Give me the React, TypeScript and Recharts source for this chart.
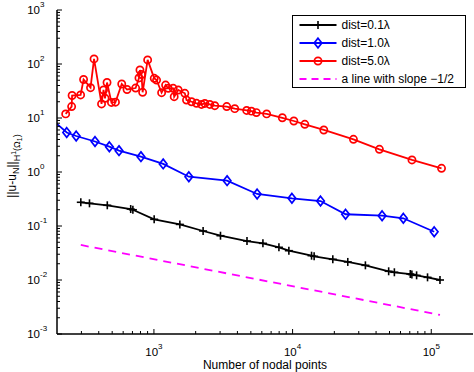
import React from 'react';
import { ComposedChart, Line, XAxis, YAxis, Legend, Label } from 'recharts';

// ---- data ----
const blackNodes = [297, 343, 461, 680, 705, 1004, 1538, 2263, 3020, 4690, 6110, 7970, 9400, 13700, 14300, 19500, 25000, 33500, 49300, 54200, 70600, 72500, 78400, 94000, 115600];
const blackErr = [0.275, 0.263, 0.242, 0.206, 0.2, 0.133, 0.107, 0.0808, 0.0661, 0.0527, 0.0478, 0.0403, 0.0349, 0.0282, 0.0275, 0.0242, 0.0216, 0.0187, 0.0145, 0.0139, 0.0129, 0.0126, 0.0122, 0.0112, 0.01];

const blueNodes = [179, 235, 275, 376, 477, 560, 806, 1166, 1786, 3370, 5550, 9890, 15900, 24100, 44200, 62900, 105000];
const blueErr = [10.0, 5.39, 4.64, 3.67, 2.94, 2.48, 1.92, 1.41, 0.818, 0.69, 0.392, 0.326, 0.29, 0.165, 0.155, 0.139, 0.0784];

const redNodes = [231, 255, 257, 296, 311, 349, 370, 419, 433, 444, 459, 494, 528, 586, 640, 738, 780, 793, 813, 829, 901, 1005, 1045, 1136, 1214, 1268, 1377, 1400, 1496, 1671, 1718, 1868, 2028, 2203, 2328, 2529, 2747, 3350, 3827, 4667, 5047, 5480, 6501, 8433, 10210, 12250, 16790, 27470, 42270, 72610, 118600];
const redErr = [11.9, 16.3, 26.1, 26.7, 51.6, 36.4, 124, 18.2, 33.0, 23.2, 45.4, 19.4, 19.6, 42.6, 33.7, 35.9, 55.1, 77.4, 63.9, 29.9, 119, 54.3, 50.5, 29.4, 40.8, 35.5, 35.5, 24.8, 33.0, 28.7, 21.5, 20.0, 18.7, 17.8, 18.6, 17.8, 16.9, 16.3, 14.9, 13.8, 13.4, 12.6, 11.9, 10.1, 8.8, 7.64, 6.0, 4.03, 2.63, 1.67, 1.17];

const slopeNodes = [297, 115600];
const slopeErr = [0.0445, 0.00226];

const legendNames = ['dist=0.1λ', 'dist=1.0λ', 'dist=5.0λ', 'a line with slope −1/2'];
const seriesColors = ['#000000', '#0000ff', '#ff0000', '#ff00ff'];

const xMajorTicks = [1000, 10000, 100000];
const xMinorTicks = [300, 400, 500, 600, 700, 800, 900, 2000, 3000, 4000, 5000, 6000, 7000, 8000, 9000, 20000, 30000, 40000, 50000, 60000, 70000, 80000, 90000];
const yMajorTicks = [0.001, 0.01, 0.1, 1, 10, 100, 1000];
const yMinorTicks = [
  0.002, 0.003, 0.004, 0.005, 0.006, 0.007, 0.008, 0.009,
  0.02, 0.03, 0.04, 0.05, 0.06, 0.07, 0.08, 0.09,
  0.2, 0.3, 0.4, 0.5, 0.6, 0.7, 0.8, 0.9,
  2, 3, 4, 5, 6, 7, 8, 9,
  20, 30, 40, 50, 60, 70, 80, 90,
  200, 300, 400, 500, 600, 700, 800, 900,
];

const xDomain = [200, 200000];
const yDomain = [0.001, 1000];

const toRows = (xs: number[], ys: number[]) => xs.map((x, i) => ({ x, y: ys[i] }));
const blackData = toRows(blackNodes, blackErr);
const blueData = toRows(blueNodes, blueErr);
const redData = toRows(redNodes, redErr);
const slopeData = toRows(slopeNodes, slopeErr);

const xTicks = [...xMinorTicks, ...xMajorTicks].sort((a, b) => a - b);
const yTicks = [...yMinorTicks, ...yMajorTicks].sort((a, b) => a - b);

const FONT = '"Liberation Sans", Arial, Helvetica, sans-serif';
const MAJOR = 5;
const MINOR = 3;
const LW = 1.8;

const isMajor = (v: number) => {
  const l = Math.log10(v);
  return Math.abs(l - Math.round(l)) < 1e-9;
};
const expOf = (v: number) => String(Math.round(Math.log10(v)));

const XTickBottom = (props: any) => {
  const { x, y, payload } = props;
  const v = payload.value;
  const major = isMajor(v);
  return (
    <g>
      <line x1={x} x2={x} y1={y} y2={y - (major ? MAJOR : MINOR)} stroke="#000" strokeWidth={1} />
      {major && (
        <text x={x} y={y + 22} textAnchor="middle" fontFamily={FONT} fontSize={11.5} fill="#000">
          10<tspan dy={-7} fontSize={8}>{expOf(v)}</tspan>
        </text>
      )}
    </g>
  );
};

const XTickTop = (props: any) => {
  const { x, y, payload } = props;
  const major = isMajor(payload.value);
  return <line x1={x} x2={x} y1={y} y2={y + (major ? MAJOR : MINOR)} stroke="#000" strokeWidth={1} />;
};

const YTickLeft = (props: any) => {
  const { x, y, payload } = props;
  const v = payload.value;
  const major = isMajor(v);
  return (
    <g>
      <line x1={x} x2={x + (major ? MAJOR : MINOR)} y1={y} y2={y} stroke="#000" strokeWidth={1} />
      {major && (
        <text x={x - 17} y={y + 4} textAnchor="end" fontFamily={FONT} fontSize={11.5} fill="#000">
          10
        </text>
      )}
      {major && (
        <text x={x - 17} y={y - 3} textAnchor="start" fontFamily={FONT} fontSize={8} fill="#000">
          {expOf(v)}
        </text>
      )}
    </g>
  );
};

const YTickRight = (props: any) => {
  const { x, y, payload } = props;
  const major = isMajor(payload.value);
  return <line x1={x} x2={x - (major ? MAJOR : MINOR)} y1={y} y2={y} stroke="#000" strokeWidth={1} />;
};

const PlusMark = ({ cx, cy, color }: any) => (
  <g>
    <line x1={cx - 4} x2={cx + 4} y1={cy} y2={cy} stroke={color} strokeWidth={1.6} />
    <line x1={cx} x2={cx} y1={cy - 4} y2={cy + 4} stroke={color} strokeWidth={1.6} />
  </g>
);
const DiamondMark = ({ cx, cy, color }: any) => (
  <path d={`M${cx},${cy - 4.8}L${cx + 3.8},${cy}L${cx},${cy + 4.8}L${cx - 3.8},${cy}Z`} fill="none" stroke={color} strokeWidth={1.7} />
);
const CircleMark = ({ cx, cy, color }: any) => (
  <circle cx={cx} cy={cy} r={3.6} fill="none" stroke={color} strokeWidth={1.7} />
);

const markDot = (Comp: any, color: string) => (p: any) => {
  if (p.cx == null || p.cy == null) return <g key={p.index} />;
  return <Comp key={p.index} cx={p.cx} cy={p.cy} color={color} />;
};

const renderLegend = () => (
  <div
    style={{
      width: 174,
      height: 73,
      boxSizing: 'border-box',
      border: '1.5px solid #000',
      background: '#fff',
    }}
  >
    <svg width={171} height={70} style={{ display: 'block' }}>
      {legendNames.map((name, i) => {
        const cy = 9 + i * 18;
        const color = seriesColors[i];
        return (
          <g key={name}>
            <line
              x1={6.5}
              x2={43.5}
              y1={cy}
              y2={cy}
              stroke={color}
              strokeWidth={LW}
              strokeDasharray={i === 3 ? '7 5' : undefined}
            />
            {i === 0 && <PlusMark cx={25} cy={cy} color={color} />}
            {i === 1 && <DiamondMark cx={25} cy={cy} color={color} />}
            {i === 2 && <CircleMark cx={25} cy={cy} color={color} />}
            <text x={48.5} y={cy + 4} fontFamily={FONT} fontSize={12} fill="#000">
              {name}
            </text>
          </g>
        );
      })}
    </svg>
  </div>
);

const YAxisTitle = (props: any) => {
  const vb = props.viewBox || { x: 0, y: 10, width: 57, height: 324 };
  const cy = vb.y + vb.height / 2 - 6;
  return (
    <text transform="rotate(-90)" x={-cy} y={vb.x + 16} textAnchor="middle" fontFamily={FONT} fontSize={12} fill="#000">
      ||u-u<tspan dy={3} fontSize={9}>N</tspan>
      <tspan dy={-3}>||</tspan>
      <tspan dy={4} fontSize={9}>H</tspan>
      <tspan dy={-4} fontSize={7}>1</tspan>
      <tspan dy={4} fontSize={9}>(Ω</tspan>
      <tspan dy={2} fontSize={7}>1</tspan>
      <tspan dy={-2} fontSize={9}>)</tspan>
    </text>
  );
};

const XAxisTitle = (props: any) => {
  const vb = props.viewBox || { x: 57, y: 334, width: 416, height: 38 };
  return (
    <text x={vb.x + vb.width / 2} y={vb.y + vb.height - 3} textAnchor="middle" fontFamily={FONT} fontSize={12} fill="#000">
      Number of nodal points
    </text>
  );
};

export default function App() {
  const axisLine = { stroke: '#000', strokeWidth: 1.5 };
  return (
    <div style={{ position: 'absolute', left: 0, top: 0, background: '#fff' }}>
      <ComposedChart width={474} height={372} margin={{ top: 10, right: 1, bottom: 0, left: 0 }}>
        <XAxis
          xAxisId={0}
          dataKey="x"
          type="number"
          scale="log"
          domain={xDomain}
          allowDataOverflow
          ticks={xTicks}
          interval={0}
          tickSize={0}
          tickMargin={0}
          tickLine={false}
          axisLine={axisLine}
          tick={(p: any) => <XTickBottom {...p} />}
          height={38}
        >
          <Label content={(p: any) => <XAxisTitle {...p} />} />
        </XAxis>
        <XAxis
          xAxisId="top"
          orientation="top"
          dataKey="x"
          type="number"
          scale="log"
          domain={xDomain}
          allowDataOverflow
          ticks={xTicks}
          interval={0}
          tickSize={0}
          tickMargin={0}
          tickLine={false}
          axisLine={axisLine}
          tick={(p: any) => <XTickTop {...p} />}
          height={0}
        />
        <YAxis
          yAxisId={0}
          type="number"
          scale="log"
          domain={yDomain}
          allowDataOverflow
          ticks={yTicks}
          interval={0}
          tickSize={0}
          tickMargin={0}
          tickLine={false}
          axisLine={axisLine}
          tick={(p: any) => <YTickLeft {...p} />}
          width={57}
        >
          <Label content={(p: any) => <YAxisTitle {...p} />} />
        </YAxis>
        <YAxis
          yAxisId="right"
          orientation="right"
          type="number"
          scale="log"
          domain={yDomain}
          allowDataOverflow
          ticks={yTicks}
          interval={0}
          tickSize={0}
          tickMargin={0}
          tickLine={false}
          axisLine={axisLine}
          tick={(p: any) => <YTickRight {...p} />}
          width={0}
        />
        <Legend
          layout="vertical"
          align="center"
          verticalAlign="middle"
          content={renderLegend}
          wrapperStyle={{ position: 'absolute', left: 292, top: 15, width: 174, height: 73 }}
        />
        <Line
          data={blackData}
          dataKey="y"
          name={legendNames[0]}
          stroke={seriesColors[0]}
          strokeWidth={LW}
          dot={markDot(PlusMark, seriesColors[0])}
          activeDot={false}
          isAnimationActive={false}
          xAxisId={0}
          yAxisId={0}
        />
        <Line
          data={blueData}
          dataKey="y"
          name={legendNames[1]}
          stroke={seriesColors[1]}
          strokeWidth={LW}
          dot={markDot(DiamondMark, seriesColors[1])}
          activeDot={false}
          isAnimationActive={false}
          xAxisId={0}
          yAxisId={0}
        />
        <Line
          data={redData}
          dataKey="y"
          name={legendNames[2]}
          stroke={seriesColors[2]}
          strokeWidth={LW}
          dot={markDot(CircleMark, seriesColors[2])}
          activeDot={false}
          isAnimationActive={false}
          xAxisId={0}
          yAxisId={0}
        />
        <Line
          data={slopeData}
          dataKey="y"
          name={legendNames[3]}
          stroke={seriesColors[3]}
          strokeWidth={LW}
          strokeDasharray="8 6"
          dot={false}
          activeDot={false}
          isAnimationActive={false}
          xAxisId={0}
          yAxisId={0}
        />
      </ComposedChart>
    </div>
  );
}
